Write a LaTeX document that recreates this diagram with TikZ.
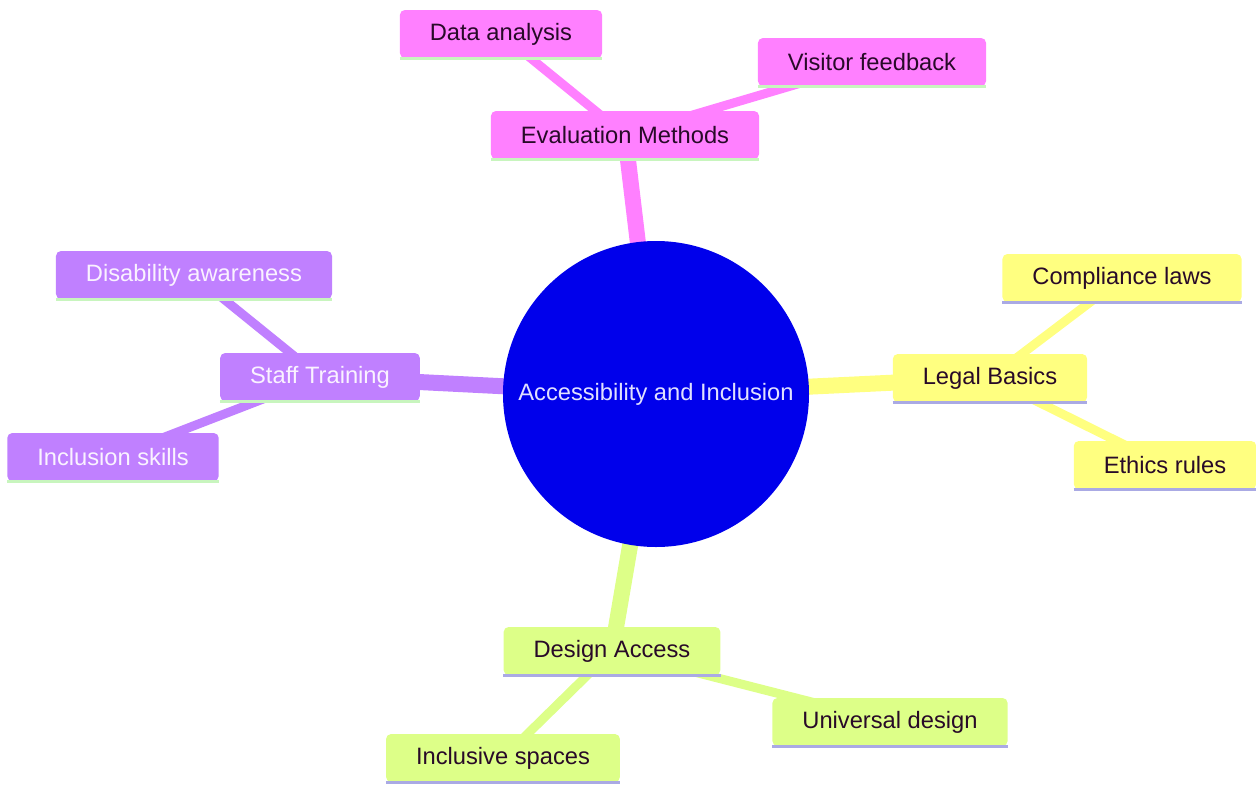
\documentclass[tikz,border=0pt]{standalone}
\usepackage{fontspec}
\setmainfont{Liberation Sans}
\usetikzlibrary{positioning}

\definecolor{rootblue}{RGB}{0,0,235}
\definecolor{roottext}{RGB}{225,225,255}
\definecolor{evalpink}{RGB}{255,128,255}
\definecolor{legalyellow}{RGB}{255,255,128}
\definecolor{designgreen}{RGB}{221,255,136}
\definecolor{staffpurple}{RGB}{192,128,255}
\definecolor{darktext}{RGB}{40,10,40}
\definecolor{lighttext}{RGB}{250,242,255}
\definecolor{undergreen}{RGB}{200,245,190}
\definecolor{underlav}{RGB}{170,170,228}

\pgfdeclarelayer{background}
\pgfsetlayers{background,main}

\tikzset{
  topic/.style={rounded corners=5pt, minimum height=48pt, inner xsep=30pt, inner ysep=0pt,
    font=\fontsize{23.7}{28}\selectfont},
  trunk/.style={line width=16pt},
  twig/.style={line width=9pt},
}

\begin{document}
\begin{tikzpicture}[x=1pt,y=-1pt]
    \useasboundingbox (0,0) rectangle (1256,785);

    % Central idea
    \node[circle, fill=rootblue, minimum size=306pt, inner sep=0pt, text=roottext,
      font=\fontsize{23.7}{28}\selectfont] (root) at (656,394) {Accessibility and Inclusion};

    % Main branches
    \foreach \n/\x/\y/\c/\tc/\txt in {eval/625/135/evalpink/darktext/Evaluation Methods,
        legal/990/378/legalyellow/darktext/Legal Basics,
        design/612/651/designgreen/darktext/Design Access,
        staff/320/377/staffpurple/lighttext/Staff Training} {
      \node[topic, fill=\c, text=\tc] (\n) at (\x,\y) {\txt};
    }

    % Leaves
    \foreach \n/\x/\y/\c/\tc/\txt in {dan/501/34/evalpink/darktext/Data analysis,
        vfb/872/62/evalpink/darktext/Visitor feedback,
        claw/1122/278/legalyellow/darktext/Compliance laws,
        erul/1165/465/legalyellow/darktext/Ethics rules,
        udes/890/722/designgreen/darktext/Universal design,
        ispc/503/758/designgreen/darktext/Inclusive spaces,
        daw/194/275/staffpurple/lighttext/Disability awareness,
        iskl/113/457/staffpurple/lighttext/Inclusion skills} {
      \node[topic, fill=\c, text=\tc] (\n) at (\x,\y) {\txt};
    }

    % Underlines of the boxes
    \foreach \n/\c in {eval/undergreen, dan/undergreen, vfb/undergreen,
        staff/undergreen, daw/undergreen, iskl/undergreen,
        legal/underlav, claw/underlav, erul/underlav,
        design/underlav, udes/underlav, ispc/underlav} {
      \draw[line width=3pt, \c] (\n.south west) -- (\n.south east);
    }

    % Connectors behind the nodes
    \begin{pgfonlayer}{background}
      \foreach \a/\c in {eval/evalpink, legal/legalyellow, design/designgreen, staff/staffpurple}
        \draw[trunk, \c] (root.center) -- (\a.center);
      \foreach \a/\b/\c in {eval/dan/evalpink, eval/vfb/evalpink,
          legal/claw/legalyellow, legal/erul/legalyellow,
          design/udes/designgreen, design/ispc/designgreen,
          staff/daw/staffpurple, staff/iskl/staffpurple}
        \draw[twig, \c] (\a.center) -- (\b.center);
    \end{pgfonlayer}

\end{tikzpicture}
\end{document}
